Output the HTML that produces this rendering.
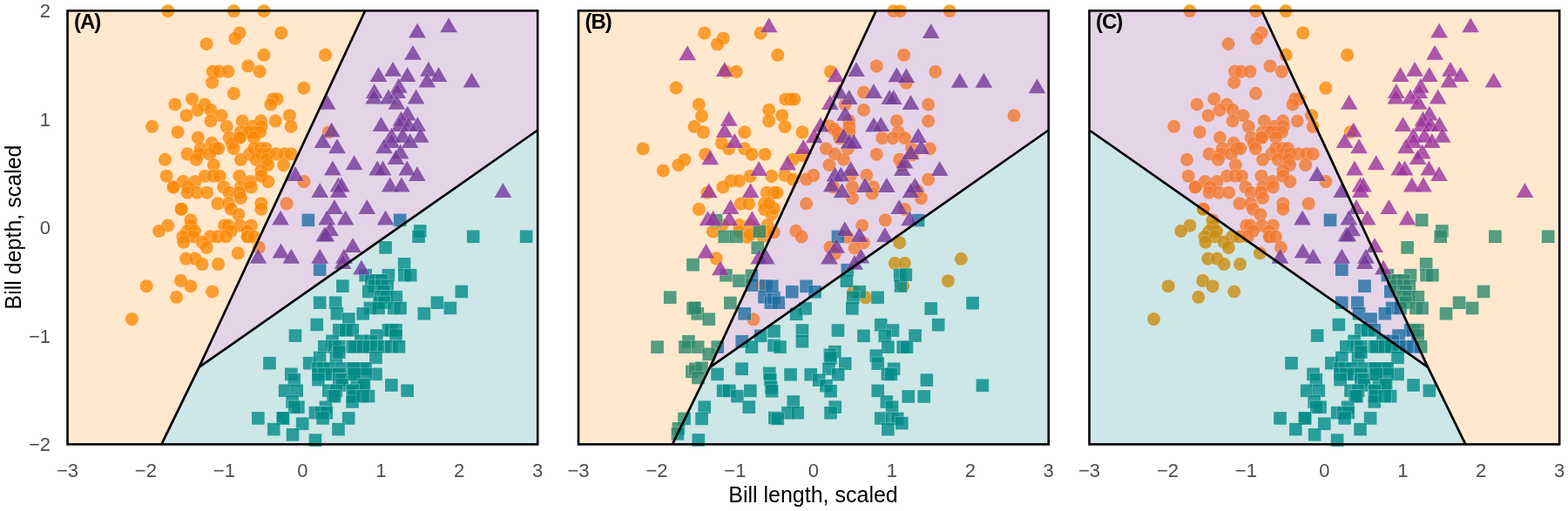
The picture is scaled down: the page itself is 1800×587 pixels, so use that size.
<!DOCTYPE html>
<html lang="en"><head><meta charset="utf-8"><title>Decision boundaries: bill length vs bill depth</title>
<style>
html,body{margin:0;padding:0;background:#fff;}
body{width:1800px;height:587px;overflow:hidden;font-family:"Liberation Sans",Arial,sans-serif;}
svg{display:block;}
.tk{font-size:22px;fill:#4d4d4d;}
.ax{font-size:25px;fill:#000;}
.lb{font-size:24px;font-weight:bold;fill:#000;letter-spacing:-1.1px;}
</style></head><body>
<svg width="1800" height="587" viewBox="0 0 1800 587" font-family="Liberation Sans, Arial, sans-serif">
<rect width="1800" height="587" fill="#fff"/>
<g id="panelA">
<g fill="#ff8c00" fill-opacity="0.8"><circle cx="192.8" cy="12.6" r="7.55"/><circle cx="268.4" cy="12.6" r="7.55"/><circle cx="303.0" cy="12.6" r="7.55"/></g>
<g fill="#008b8b" fill-opacity="0.8"><rect x="354.6" y="498.3" width="14.7" height="14.7"/></g>
<defs>
<clipPath id="cAO"><polygon points="77.5,12.3 419.2,12.3 228.5,421.9 185.4,510.4 77.5,510.4"/></clipPath>
<clipPath id="cAT"><polygon points="419.2,12.3 617.2,12.3 617.2,149.5 228.5,421.9"/></clipPath>
<clipPath id="cAS"><polygon points="185.4,510.4 228.5,421.9 617.2,149.5 617.2,510.4"/></clipPath>
</defs>
<polygon points="77.5,12.3 419.2,12.3 228.5,421.9 185.4,510.4 77.5,510.4" fill="#ffe8cd"/>
<polygon points="419.2,12.3 617.2,12.3 617.2,149.5 228.5,421.9" fill="#e5d3e8"/>
<polygon points="185.4,510.4 228.5,421.9 617.2,149.5 617.2,510.4" fill="#cde6e7"/>
<g clip-path="url(#cAO)">
<g fill="#fa8a08" fill-opacity="0.8" stroke="#fff4e6" stroke-opacity="0.45" stroke-width="1.0" paint-order="stroke"><circle cx="192.8" cy="12.6" r="7.55"/><circle cx="268.4" cy="12.6" r="7.55"/><circle cx="275.0" cy="37.8" r="7.55"/><circle cx="269.9" cy="44.2" r="7.55"/><circle cx="237.0" cy="50.5" r="7.55"/><circle cx="284.9" cy="75.8" r="7.55"/><circle cx="244.3" cy="82.1" r="7.55"/><circle cx="251.6" cy="82.1" r="7.55"/><circle cx="261.9" cy="82.1" r="7.55"/><circle cx="243.6" cy="94.7" r="7.55"/><circle cx="303.0" cy="12.6" r="7.55"/><circle cx="322.7" cy="37.8" r="7.55"/><circle cx="303.0" cy="63.1" r="7.55"/><circle cx="373.5" cy="63.1" r="7.55"/><circle cx="298.2" cy="82.1" r="7.55"/><circle cx="348.8" cy="101.1" r="7.55"/><circle cx="268.4" cy="107.4" r="7.55"/><circle cx="220.6" cy="113.7" r="7.55"/><circle cx="200.9" cy="120.0" r="7.55"/><circle cx="235.1" cy="120.0" r="7.55"/><circle cx="226.9" cy="126.4" r="7.55"/><circle cx="241.9" cy="126.4" r="7.55"/><circle cx="214.0" cy="132.7" r="7.55"/><circle cx="253.9" cy="132.7" r="7.55"/><circle cx="241.9" cy="139.0" r="7.55"/><circle cx="278.2" cy="139.0" r="7.55"/><circle cx="174.6" cy="145.3" r="7.55"/><circle cx="260.2" cy="145.3" r="7.55"/><circle cx="204.1" cy="151.7" r="7.55"/><circle cx="276.4" cy="151.7" r="7.55"/><circle cx="288.3" cy="151.7" r="7.55"/><circle cx="227.3" cy="158.0" r="7.55"/><circle cx="263.1" cy="158.0" r="7.55"/><circle cx="275.5" cy="158.0" r="7.55"/><circle cx="243.1" cy="164.3" r="7.55"/><circle cx="266.1" cy="164.3" r="7.55"/><circle cx="230.3" cy="170.6" r="7.55"/><circle cx="247.0" cy="170.6" r="7.55"/><circle cx="250.8" cy="170.6" r="7.55"/><circle cx="268.2" cy="170.6" r="7.55"/><circle cx="215.0" cy="176.9" r="7.55"/><circle cx="228.6" cy="176.9" r="7.55"/><circle cx="240.6" cy="176.9" r="7.55"/><circle cx="286.6" cy="176.9" r="7.55"/><circle cx="189.4" cy="183.3" r="7.55"/><circle cx="225.2" cy="183.3" r="7.55"/><circle cx="276.4" cy="183.3" r="7.55"/><circle cx="245.3" cy="189.6" r="7.55"/><circle cx="318.0" cy="113.7" r="7.55"/><circle cx="313.7" cy="113.7" r="7.55"/><circle cx="310.8" cy="120.0" r="7.55"/><circle cx="332.4" cy="132.7" r="7.55"/><circle cx="299.5" cy="139.0" r="7.55"/><circle cx="316.2" cy="139.0" r="7.55"/><circle cx="334.1" cy="145.3" r="7.55"/><circle cx="289.8" cy="145.3" r="7.55"/><circle cx="300.1" cy="145.3" r="7.55"/><circle cx="285.6" cy="151.7" r="7.55"/><circle cx="293.2" cy="151.7" r="7.55"/><circle cx="298.4" cy="151.7" r="7.55"/><circle cx="275.3" cy="158.0" r="7.55"/><circle cx="291.5" cy="158.0" r="7.55"/><circle cx="291.5" cy="170.6" r="7.55"/><circle cx="299.2" cy="170.6" r="7.55"/><circle cx="305.2" cy="170.6" r="7.55"/><circle cx="300.9" cy="176.9" r="7.55"/><circle cx="307.7" cy="176.9" r="7.55"/><circle cx="317.1" cy="176.9" r="7.55"/><circle cx="326.5" cy="176.9" r="7.55"/><circle cx="334.1" cy="176.9" r="7.55"/><circle cx="294.1" cy="183.3" r="7.55"/><circle cx="306.0" cy="183.3" r="7.55"/><circle cx="325.6" cy="189.6" r="7.55"/><circle cx="191.1" cy="202.2" r="7.55"/><circle cx="235.5" cy="202.2" r="7.55"/><circle cx="244.8" cy="202.2" r="7.55"/><circle cx="252.2" cy="202.2" r="7.55"/><circle cx="275.0" cy="202.2" r="7.55"/><circle cx="210.2" cy="208.6" r="7.55"/><circle cx="224.0" cy="208.6" r="7.55"/><circle cx="287.4" cy="208.6" r="7.55"/><circle cx="199.1" cy="214.9" r="7.55"/><circle cx="199.1" cy="214.9" r="7.55"/><circle cx="215.9" cy="214.9" r="7.55"/><circle cx="256.8" cy="214.9" r="7.55"/><circle cx="276.4" cy="214.9" r="7.55"/><circle cx="288.3" cy="214.9" r="7.55"/><circle cx="215.0" cy="221.2" r="7.55"/><circle cx="226.1" cy="221.2" r="7.55"/><circle cx="237.5" cy="221.2" r="7.55"/><circle cx="263.1" cy="221.2" r="7.55"/><circle cx="274.7" cy="221.2" r="7.55"/><circle cx="276.4" cy="227.5" r="7.55"/><circle cx="249.9" cy="233.9" r="7.55"/><circle cx="262.4" cy="233.9" r="7.55"/><circle cx="208.2" cy="240.2" r="7.55"/><circle cx="208.2" cy="240.2" r="7.55"/><circle cx="265.3" cy="240.2" r="7.55"/><circle cx="273.8" cy="246.5" r="7.55"/><circle cx="218.9" cy="252.8" r="7.55"/><circle cx="192.8" cy="259.1" r="7.55"/><circle cx="219.3" cy="259.1" r="7.55"/><circle cx="257.6" cy="259.1" r="7.55"/><circle cx="261.9" cy="259.1" r="7.55"/><circle cx="275.5" cy="259.1" r="7.55"/><circle cx="288.3" cy="259.1" r="7.55"/><circle cx="182.6" cy="265.5" r="7.55"/><circle cx="215.0" cy="265.5" r="7.55"/><circle cx="223.5" cy="265.5" r="7.55"/><circle cx="265.3" cy="265.5" r="7.55"/><circle cx="284.0" cy="265.5" r="7.55"/><circle cx="209.9" cy="271.8" r="7.55"/><circle cx="221.8" cy="271.8" r="7.55"/><circle cx="241.4" cy="271.8" r="7.55"/><circle cx="249.9" cy="271.8" r="7.55"/><circle cx="259.3" cy="271.8" r="7.55"/><circle cx="284.0" cy="271.8" r="7.55"/><circle cx="210.7" cy="278.1" r="7.55"/><circle cx="232.0" cy="278.1" r="7.55"/><circle cx="307.5" cy="189.6" r="7.55"/><circle cx="299.8" cy="195.9" r="7.55"/><circle cx="299.8" cy="202.2" r="7.55"/><circle cx="307.8" cy="208.6" r="7.55"/><circle cx="299.8" cy="233.9" r="7.55"/><circle cx="299.8" cy="240.2" r="7.55"/><circle cx="284.5" cy="271.8" r="7.55"/><circle cx="291.3" cy="271.8" r="7.55"/><circle cx="329.1" cy="233.9" r="7.55"/><circle cx="237.2" cy="284.4" r="7.55"/><circle cx="273.3" cy="290.8" r="7.55"/><circle cx="213.6" cy="297.1" r="7.55"/><circle cx="224.0" cy="297.1" r="7.55"/><circle cx="232.0" cy="303.4" r="7.55"/><circle cx="250.5" cy="303.4" r="7.55"/><circle cx="207.5" cy="322.4" r="7.55"/><circle cx="168.1" cy="328.7" r="7.55"/><circle cx="218.9" cy="328.7" r="7.55"/><circle cx="243.6" cy="335.0" r="7.55"/><circle cx="202.6" cy="341.3" r="7.55"/><circle cx="151.4" cy="366.6" r="7.55"/><circle cx="297.3" cy="284.4" r="7.55"/></g>
<g fill="#98329f" fill-opacity="0.8" stroke="#fff4e6" stroke-opacity="0.45" stroke-width="1.0" paint-order="stroke"><path d="M375.6 108.7l9.9 17.0h-19.8z"/><path d="M339.0 190.9l9.9 17.0h-19.8z"/><path d="M296.4 285.8l9.9 17.0h-19.8z"/></g>
</g>
<g clip-path="url(#cAT)">
<g fill="#f37a30" fill-opacity="0.8" stroke="#f4e8f6" stroke-opacity="0.45" stroke-width="1.0" paint-order="stroke"><circle cx="334.1" cy="176.9" r="7.55"/><circle cx="325.6" cy="189.6" r="7.55"/><circle cx="377.3" cy="151.7" r="7.55"/><circle cx="291.3" cy="271.8" r="7.55"/><circle cx="348.9" cy="208.6" r="7.55"/><circle cx="329.1" cy="233.9" r="7.55"/><circle cx="297.3" cy="284.4" r="7.55"/></g>
<g fill="#1e6ea1" fill-opacity="0.8" stroke="#f4e8f6" stroke-opacity="0.45" stroke-width="1.0" paint-order="stroke"><rect x="346.5" y="245.5" width="14.7" height="14.7"/><rect x="451.8" y="245.5" width="14.7" height="14.7"/><rect x="359.8" y="302.3" width="14.7" height="14.7"/><rect x="435.2" y="277.0" width="14.7" height="14.7"/></g>
<g fill="#723997" fill-opacity="0.8" stroke="#f4e8f6" stroke-opacity="0.45" stroke-width="1.0" paint-order="stroke"><path d="M479.0 26.5l9.9 17.0h-19.8z"/><path d="M515.1 20.2l9.9 17.0h-19.8z"/><path d="M474.0 51.8l9.9 17.0h-19.8z"/><path d="M451.0 70.8l9.9 17.0h-19.8z"/><path d="M434.5 77.1l9.9 17.0h-19.8z"/><path d="M467.7 77.1l9.9 17.0h-19.8z"/><path d="M491.9 70.8l9.9 17.0h-19.8z"/><path d="M503.5 77.1l9.9 17.0h-19.8z"/><path d="M541.5 83.4l9.9 17.0h-19.8z"/><path d="M490.4 83.4l9.9 17.0h-19.8z"/><path d="M457.8 89.8l9.9 17.0h-19.8z"/><path d="M429.7 96.1l9.9 17.0h-19.8z"/><path d="M375.6 108.7l9.9 17.0h-19.8z"/><path d="M380.7 140.4l9.9 17.0h-19.8z"/><path d="M370.5 153.0l9.9 17.0h-19.8z"/><path d="M387.0 159.3l9.9 17.0h-19.8z"/><path d="M381.9 184.6l9.9 17.0h-19.8z"/><path d="M406.6 178.3l9.9 17.0h-19.8z"/><path d="M456.2 96.1l9.9 17.0h-19.8z"/><path d="M429.3 102.4l9.9 17.0h-19.8z"/><path d="M446.0 102.4l9.9 17.0h-19.8z"/><path d="M477.6 102.4l9.9 17.0h-19.8z"/><path d="M455.4 108.7l9.9 17.0h-19.8z"/><path d="M467.8 121.4l9.9 17.0h-19.8z"/><path d="M460.5 127.7l9.9 17.0h-19.8z"/><path d="M437.5 134.0l9.9 17.0h-19.8z"/><path d="M458.8 134.0l9.9 17.0h-19.8z"/><path d="M469.0 134.0l9.9 17.0h-19.8z"/><path d="M479.3 134.0l9.9 17.0h-19.8z"/><path d="M449.4 146.7l9.9 17.0h-19.8z"/><path d="M462.2 146.7l9.9 17.0h-19.8z"/><path d="M482.7 146.7l9.9 17.0h-19.8z"/><path d="M449.4 153.0l9.9 17.0h-19.8z"/><path d="M470.7 153.0l9.9 17.0h-19.8z"/><path d="M440.9 159.3l9.9 17.0h-19.8z"/><path d="M459.7 165.6l9.9 17.0h-19.8z"/><path d="M454.5 172.0l9.9 17.0h-19.8z"/><path d="M433.2 184.6l9.9 17.0h-19.8z"/><path d="M439.5 184.6l9.9 17.0h-19.8z"/><path d="M467.3 184.6l9.9 17.0h-19.8z"/><path d="M339.0 190.9l9.9 17.0h-19.8z"/><path d="M367.2 209.9l9.9 17.0h-19.8z"/><path d="M388.5 203.6l9.9 17.0h-19.8z"/><path d="M391.9 203.6l9.9 17.0h-19.8z"/><path d="M388.8 209.9l9.9 17.0h-19.8z"/><path d="M383.9 228.9l9.9 17.0h-19.8z"/><path d="M322.0 241.5l9.9 17.0h-19.8z"/><path d="M375.3 241.5l9.9 17.0h-19.8z"/><path d="M396.6 241.5l9.9 17.0h-19.8z"/><path d="M379.1 254.2l9.9 17.0h-19.8z"/><path d="M372.3 260.5l9.9 17.0h-19.8z"/><path d="M374.3 260.5l9.9 17.0h-19.8z"/><path d="M405.0 273.1l9.9 17.0h-19.8z"/><path d="M478.9 190.9l9.9 17.0h-19.8z"/><path d="M447.7 203.6l9.9 17.0h-19.8z"/><path d="M460.9 203.6l9.9 17.0h-19.8z"/><path d="M421.3 228.9l9.9 17.0h-19.8z"/><path d="M442.6 241.5l9.9 17.0h-19.8z"/><path d="M296.4 285.8l9.9 17.0h-19.8z"/><path d="M322.5 279.5l9.9 17.0h-19.8z"/><path d="M334.3 285.8l9.9 17.0h-19.8z"/><path d="M367.2 285.8l9.9 17.0h-19.8z"/><path d="M394.9 285.8l9.9 17.0h-19.8z"/><path d="M393.6 292.1l9.9 17.0h-19.8z"/></g>
</g>
<g clip-path="url(#cAS)">
<g fill="#008b87" fill-opacity="0.8" stroke="#e8f6f6" stroke-opacity="0.45" stroke-width="1.0" paint-order="stroke"><rect x="451.8" y="245.5" width="14.7" height="14.7"/><rect x="474.9" y="258.1" width="14.7" height="14.7"/><rect x="473.2" y="264.4" width="14.7" height="14.7"/><rect x="535.9" y="264.4" width="14.7" height="14.7"/><rect x="596.8" y="264.4" width="14.7" height="14.7"/><rect x="386.0" y="321.3" width="14.7" height="14.7"/><rect x="359.8" y="340.3" width="14.7" height="14.7"/><rect x="377.8" y="340.3" width="14.7" height="14.7"/><rect x="379.5" y="352.9" width="14.7" height="14.7"/><rect x="393.0" y="359.2" width="14.7" height="14.7"/><rect x="435.2" y="277.0" width="14.7" height="14.7"/><rect x="456.8" y="296.0" width="14.7" height="14.7"/><rect x="522.5" y="327.6" width="14.7" height="14.7"/><rect x="494.5" y="340.3" width="14.7" height="14.7"/><rect x="509.5" y="346.6" width="14.7" height="14.7"/><rect x="479.5" y="352.9" width="14.7" height="14.7"/><rect x="412.3" y="308.8" width="14.7" height="14.7"/><rect x="438.5" y="308.8" width="14.7" height="14.7"/><rect x="457.0" y="308.8" width="14.7" height="14.7"/><rect x="463.8" y="308.8" width="14.7" height="14.7"/><rect x="418.8" y="315.0" width="14.7" height="14.7"/><rect x="424.2" y="315.0" width="14.7" height="14.7"/><rect x="430.8" y="315.0" width="14.7" height="14.7"/><rect x="422.4" y="321.3" width="14.7" height="14.7"/><rect x="430.8" y="321.3" width="14.7" height="14.7"/><rect x="437.3" y="321.3" width="14.7" height="14.7"/><rect x="415.8" y="327.6" width="14.7" height="14.7"/><rect x="433.1" y="327.6" width="14.7" height="14.7"/><rect x="429.6" y="333.9" width="14.7" height="14.7"/><rect x="436.1" y="333.9" width="14.7" height="14.7"/><rect x="447.4" y="333.9" width="14.7" height="14.7"/><rect x="428.4" y="340.3" width="14.7" height="14.7"/><rect x="433.8" y="340.3" width="14.7" height="14.7"/><rect x="417.6" y="346.6" width="14.7" height="14.7"/><rect x="427.2" y="346.6" width="14.7" height="14.7"/><rect x="445.1" y="346.6" width="14.7" height="14.7"/><rect x="452.2" y="346.6" width="14.7" height="14.7"/><rect x="409.3" y="352.9" width="14.7" height="14.7"/><rect x="356.4" y="365.6" width="14.7" height="14.7"/><rect x="331.6" y="378.2" width="14.7" height="14.7"/><rect x="302.1" y="409.8" width="14.7" height="14.7"/><rect x="327.0" y="422.5" width="14.7" height="14.7"/><rect x="330.4" y="428.8" width="14.7" height="14.7"/><rect x="319.8" y="441.4" width="14.7" height="14.7"/><rect x="333.3" y="441.4" width="14.7" height="14.7"/><rect x="328.2" y="454.1" width="14.7" height="14.7"/><rect x="347.8" y="409.8" width="14.7" height="14.7"/><rect x="381.9" y="371.9" width="14.7" height="14.7"/><rect x="389.6" y="371.9" width="14.7" height="14.7"/><rect x="397.3" y="371.9" width="14.7" height="14.7"/><rect x="374.2" y="384.5" width="14.7" height="14.7"/><rect x="364.9" y="390.9" width="14.7" height="14.7"/><rect x="376.8" y="390.9" width="14.7" height="14.7"/><rect x="381.9" y="390.9" width="14.7" height="14.7"/><rect x="397.3" y="390.9" width="14.7" height="14.7"/><rect x="407.5" y="390.9" width="14.7" height="14.7"/><rect x="359.8" y="403.5" width="14.7" height="14.7"/><rect x="378.5" y="403.5" width="14.7" height="14.7"/><rect x="381.9" y="397.2" width="14.7" height="14.7"/><rect x="358.1" y="416.1" width="14.7" height="14.7"/><rect x="363.2" y="416.1" width="14.7" height="14.7"/><rect x="371.8" y="416.1" width="14.7" height="14.7"/><rect x="385.3" y="416.1" width="14.7" height="14.7"/><rect x="397.3" y="416.1" width="14.7" height="14.7"/><rect x="409.2" y="416.1" width="14.7" height="14.7"/><rect x="358.1" y="422.5" width="14.7" height="14.7"/><rect x="364.9" y="422.5" width="14.7" height="14.7"/><rect x="373.4" y="422.5" width="14.7" height="14.7"/><rect x="381.9" y="422.5" width="14.7" height="14.7"/><rect x="399.0" y="422.5" width="14.7" height="14.7"/><rect x="358.1" y="428.8" width="14.7" height="14.7"/><rect x="381.9" y="428.8" width="14.7" height="14.7"/><rect x="385.3" y="428.8" width="14.7" height="14.7"/><rect x="385.3" y="435.1" width="14.7" height="14.7"/><rect x="402.4" y="435.1" width="14.7" height="14.7"/><rect x="409.2" y="435.1" width="14.7" height="14.7"/><rect x="370.0" y="441.4" width="14.7" height="14.7"/><rect x="378.5" y="441.4" width="14.7" height="14.7"/><rect x="397.3" y="441.4" width="14.7" height="14.7"/><rect x="375.1" y="447.8" width="14.7" height="14.7"/><rect x="397.3" y="447.8" width="14.7" height="14.7"/><rect x="442.0" y="371.9" width="14.7" height="14.7"/><rect x="438.6" y="371.9" width="14.7" height="14.7"/><rect x="447.1" y="371.9" width="14.7" height="14.7"/><rect x="425.0" y="378.2" width="14.7" height="14.7"/><rect x="447.1" y="378.2" width="14.7" height="14.7"/><rect x="407.1" y="384.5" width="14.7" height="14.7"/><rect x="418.2" y="384.5" width="14.7" height="14.7"/><rect x="399.4" y="390.9" width="14.7" height="14.7"/><rect x="409.6" y="390.9" width="14.7" height="14.7"/><rect x="416.5" y="390.9" width="14.7" height="14.7"/><rect x="425.0" y="390.9" width="14.7" height="14.7"/><rect x="433.5" y="390.9" width="14.7" height="14.7"/><rect x="442.0" y="390.9" width="14.7" height="14.7"/><rect x="450.6" y="390.9" width="14.7" height="14.7"/><rect x="424.1" y="403.5" width="14.7" height="14.7"/><rect x="412.2" y="416.1" width="14.7" height="14.7"/><rect x="398.6" y="416.1" width="14.7" height="14.7"/><rect x="424.1" y="422.5" width="14.7" height="14.7"/><rect x="412.2" y="422.5" width="14.7" height="14.7"/><rect x="399.4" y="422.5" width="14.7" height="14.7"/><rect x="410.5" y="435.1" width="14.7" height="14.7"/><rect x="442.0" y="435.1" width="14.7" height="14.7"/><rect x="460.3" y="441.4" width="14.7" height="14.7"/><rect x="397.8" y="441.4" width="14.7" height="14.7"/><rect x="415.6" y="447.8" width="14.7" height="14.7"/><rect x="398.6" y="447.8" width="14.7" height="14.7"/><rect x="335.0" y="460.4" width="14.7" height="14.7"/><rect x="330.8" y="460.4" width="14.7" height="14.7"/><rect x="289.0" y="473.1" width="14.7" height="14.7"/><rect x="317.5" y="473.1" width="14.7" height="14.7"/><rect x="317.5" y="473.1" width="14.7" height="14.7"/><rect x="306.9" y="485.8" width="14.7" height="14.7"/><rect x="339.8" y="479.4" width="14.7" height="14.7"/><rect x="328.6" y="492.0" width="14.7" height="14.7"/><rect x="354.6" y="498.3" width="14.7" height="14.7"/><rect x="366.6" y="460.4" width="14.7" height="14.7"/><rect x="354.6" y="466.8" width="14.7" height="14.7"/><rect x="361.5" y="466.8" width="14.7" height="14.7"/><rect x="367.4" y="466.8" width="14.7" height="14.7"/><rect x="363.2" y="473.1" width="14.7" height="14.7"/><rect x="392.8" y="473.1" width="14.7" height="14.7"/><rect x="381.1" y="485.8" width="14.7" height="14.7"/><rect x="397.3" y="454.1" width="14.7" height="14.7"/><rect x="376.8" y="447.8" width="14.7" height="14.7"/><rect x="409.2" y="447.8" width="14.7" height="14.7"/></g>
<g fill="#6f37a1" fill-opacity="0.8" stroke="#e8f6f6" stroke-opacity="0.45" stroke-width="1.0" paint-order="stroke"><path d="M405.0 273.1l9.9 17.0h-19.8z"/><path d="M577.4 209.9l9.9 17.0h-19.8z"/><path d="M394.9 285.8l9.9 17.0h-19.8z"/><path d="M393.6 292.1l9.9 17.0h-19.8z"/><path d="M414.9 298.4l9.9 17.0h-19.8z"/></g>
</g>
<path d="M185.4 510.4L228.5 421.9L419.2 12.3M228.5 421.9L617.2 149.5" stroke="#000" stroke-width="2.7" fill="none" stroke-linejoin="round"/>
<rect x="77.5" y="12.3" width="539.7" height="498.1" fill="none" stroke="#000" stroke-width="2.6"/>
<text class="lb" x="85.1" y="33.0">(A)</text>
<text class="tk" x="77.5" y="548.4" text-anchor="middle">−3</text>
<text class="tk" x="167.4" y="548.4" text-anchor="middle">−2</text>
<text class="tk" x="257.4" y="548.4" text-anchor="middle">−1</text>
<text class="tk" x="347.4" y="548.4" text-anchor="middle">0</text>
<text class="tk" x="437.3" y="548.4" text-anchor="middle">1</text>
<text class="tk" x="527.2" y="548.4" text-anchor="middle">2</text>
<text class="tk" x="617.2" y="548.4" text-anchor="middle">3</text>
</g>
<g id="panelB">
<g fill="#ff8c00" fill-opacity="0.8"><circle cx="1025.8" cy="12.7" r="7.55"/><circle cx="1033.4" cy="12.7" r="7.55"/><circle cx="1090.2" cy="12.7" r="7.55"/></g>
<g fill="#008b8b" fill-opacity="0.8"><rect x="794.5" y="498.1" width="14.7" height="14.7"/></g>
<defs>
<clipPath id="cBO"><polygon points="664.0,12.3 1005.7,12.3 815.0,421.9 771.9,510.4 664.0,510.4"/></clipPath>
<clipPath id="cBT"><polygon points="1005.7,12.3 1203.7,12.3 1203.7,149.5 815.0,421.9"/></clipPath>
<clipPath id="cBS"><polygon points="771.9,510.4 815.0,421.9 1203.7,149.5 1203.7,510.4"/></clipPath>
</defs>
<polygon points="664.0,12.3 1005.7,12.3 815.0,421.9 771.9,510.4 664.0,510.4" fill="#ffe8cd"/>
<polygon points="1005.7,12.3 1203.7,12.3 1203.7,149.5 815.0,421.9" fill="#e5d3e8"/>
<polygon points="771.9,510.4 815.0,421.9 1203.7,149.5 1203.7,510.4" fill="#cde6e7"/>
<g clip-path="url(#cBO)">
<g fill="#fa8a08" fill-opacity="0.8" stroke="#fff4e6" stroke-opacity="0.45" stroke-width="1.0" paint-order="stroke"><circle cx="808.7" cy="38.0" r="7.55"/><circle cx="830.2" cy="44.0" r="7.55"/><circle cx="823.5" cy="50.8" r="7.55"/><circle cx="873.1" cy="38.0" r="7.55"/><circle cx="833.5" cy="82.3" r="7.55"/><circle cx="845.2" cy="82.3" r="7.55"/><circle cx="776.1" cy="100.9" r="7.55"/><circle cx="892.8" cy="63.2" r="7.55"/><circle cx="953.4" cy="82.3" r="7.55"/><circle cx="802.3" cy="120.0" r="7.55"/><circle cx="805.6" cy="133.1" r="7.55"/><circle cx="797.1" cy="145.5" r="7.55"/><circle cx="807.4" cy="151.9" r="7.55"/><circle cx="882.7" cy="126.4" r="7.55"/><circle cx="882.7" cy="138.9" r="7.55"/><circle cx="854.8" cy="151.9" r="7.55"/><circle cx="828.4" cy="164.4" r="7.55"/><circle cx="836.6" cy="170.8" r="7.55"/><circle cx="854.8" cy="170.8" r="7.55"/><circle cx="863.0" cy="177.2" r="7.55"/><circle cx="878.0" cy="177.2" r="7.55"/><circle cx="738.2" cy="170.8" r="7.55"/><circle cx="809.8" cy="177.2" r="7.55"/><circle cx="785.9" cy="183.6" r="7.55"/><circle cx="778.8" cy="189.6" r="7.55"/><circle cx="761.3" cy="196.0" r="7.55"/><circle cx="861.2" cy="202.4" r="7.55"/><circle cx="839.3" cy="207.8" r="7.55"/><circle cx="848.5" cy="207.8" r="7.55"/><circle cx="885.8" cy="202.4" r="7.55"/><circle cx="901.9" cy="114.0" r="7.55"/><circle cx="907.3" cy="114.0" r="7.55"/><circle cx="911.9" cy="114.0" r="7.55"/><circle cx="897.7" cy="132.7" r="7.55"/><circle cx="901.0" cy="145.5" r="7.55"/><circle cx="921.0" cy="151.9" r="7.55"/><circle cx="910.1" cy="183.2" r="7.55"/><circle cx="921.0" cy="178.7" r="7.55"/><circle cx="901.0" cy="201.4" r="7.55"/><circle cx="910.1" cy="206.0" r="7.55"/><circle cx="952.0" cy="144.9" r="7.55"/><circle cx="925.6" cy="206.0" r="7.55"/><circle cx="829.9" cy="214.9" r="7.55"/><circle cx="812.0" cy="221.3" r="7.55"/><circle cx="880.3" cy="221.3" r="7.55"/><circle cx="888.5" cy="221.3" r="7.55"/><circle cx="850.3" cy="234.0" r="7.55"/><circle cx="859.7" cy="234.0" r="7.55"/><circle cx="877.6" cy="234.0" r="7.55"/><circle cx="802.3" cy="240.4" r="7.55"/><circle cx="877.6" cy="240.4" r="7.55"/><circle cx="885.8" cy="245.9" r="7.55"/><circle cx="888.5" cy="239.5" r="7.55"/><circle cx="848.5" cy="258.6" r="7.55"/><circle cx="829.3" cy="258.6" r="7.55"/><circle cx="861.2" cy="258.6" r="7.55"/><circle cx="881.3" cy="258.6" r="7.55"/><circle cx="818.4" cy="265.9" r="7.55"/><circle cx="848.5" cy="265.9" r="7.55"/><circle cx="857.6" cy="272.3" r="7.55"/><circle cx="861.2" cy="269.5" r="7.55"/><circle cx="872.1" cy="265.9" r="7.55"/><circle cx="875.8" cy="271.4" r="7.55"/><circle cx="822.2" cy="296.9" r="7.55"/><circle cx="891.8" cy="221.3" r="7.55"/><circle cx="882.7" cy="234.0" r="7.55"/><circle cx="881.8" cy="265.9" r="7.55"/><circle cx="888.2" cy="266.8" r="7.55"/></g>
<g fill="#2a886d" fill-opacity="0.8" stroke="#fff4e6" stroke-opacity="0.45" stroke-width="1.0" paint-order="stroke"><rect x="814.6" y="245.8" width="14.7" height="14.7"/><rect x="824.4" y="264.5" width="14.7" height="14.7"/><rect x="837.9" y="264.5" width="14.7" height="14.7"/><rect x="864.4" y="258.5" width="14.7" height="14.7"/><rect x="862.4" y="277.3" width="14.7" height="14.7"/><rect x="788.2" y="296.8" width="14.7" height="14.7"/><rect x="826.1" y="308.9" width="14.7" height="14.7"/><rect x="841.1" y="315.3" width="14.7" height="14.7"/><rect x="855.6" y="309.3" width="14.7" height="14.7"/><rect x="761.9" y="334.3" width="14.7" height="14.7"/><rect x="831.0" y="340.6" width="14.7" height="14.7"/><rect x="788.2" y="347.0" width="14.7" height="14.7"/><rect x="793.4" y="353.0" width="14.7" height="14.7"/><rect x="806.4" y="359.4" width="14.7" height="14.7"/><rect x="847.4" y="353.0" width="14.7" height="14.7"/><rect x="855.6" y="320.2" width="14.7" height="14.7"/><rect x="747.2" y="391.3" width="14.7" height="14.7"/><rect x="783.1" y="384.9" width="14.7" height="14.7"/><rect x="779.1" y="391.3" width="14.7" height="14.7"/><rect x="793.8" y="391.3" width="14.7" height="14.7"/><rect x="816.4" y="391.3" width="14.7" height="14.7"/><rect x="806.4" y="399.5" width="14.7" height="14.7"/><rect x="787.0" y="419.5" width="14.7" height="14.7"/><rect x="791.1" y="416.4" width="14.7" height="14.7"/><rect x="798.2" y="415.4" width="14.7" height="14.7"/><rect x="794.1" y="426.6" width="14.7" height="14.7"/><rect x="816.2" y="422.5" width="14.7" height="14.7"/><rect x="778.2" y="473.6" width="14.7" height="14.7"/><rect x="771.6" y="484.9" width="14.7" height="14.7"/><rect x="770.6" y="491.0" width="14.7" height="14.7"/><rect x="790.2" y="346.4" width="14.7" height="14.7"/></g>
<g fill="#98329f" fill-opacity="0.8" stroke="#fff4e6" stroke-opacity="0.45" stroke-width="1.0" paint-order="stroke"><path d="M882.7 20.3l9.9 17.0h-19.8z"/><path d="M789.2 52.2l9.9 17.0h-19.8z"/><path d="M831.7 71.0l9.9 17.0h-19.8z"/><path d="M959.6 77.3l9.9 17.0h-19.8z"/><path d="M983.0 71.0l9.9 17.0h-19.8z"/><path d="M963.8 96.5l9.9 17.0h-19.8z"/><path d="M836.8 127.8l9.9 17.0h-19.8z"/><path d="M831.7 140.9l9.9 17.0h-19.8z"/><path d="M843.3 153.1l9.9 17.0h-19.8z"/><path d="M815.3 172.2l9.9 17.0h-19.8z"/><path d="M871.2 185.0l9.9 17.0h-19.8z"/><path d="M952.9 109.0l9.9 17.0h-19.8z"/><path d="M942.0 134.5l9.9 17.0h-19.8z"/><path d="M934.7 147.3l9.9 17.0h-19.8z"/><path d="M922.3 160.0l9.9 17.0h-19.8z"/><path d="M904.2 178.6l9.9 17.0h-19.8z"/><path d="M813.8 210.3l9.9 17.0h-19.8z"/><path d="M861.6 210.3l9.9 17.0h-19.8z"/><path d="M838.6 229.1l9.9 17.0h-19.8z"/><path d="M812.6 242.2l9.9 17.0h-19.8z"/><path d="M818.7 241.8l9.9 17.0h-19.8z"/><path d="M837.2 242.2l9.9 17.0h-19.8z"/><path d="M863.4 242.2l9.9 17.0h-19.8z"/><path d="M810.5 279.7l9.9 17.0h-19.8z"/><path d="M826.9 299.2l9.9 17.0h-19.8z"/><path d="M871.2 286.5l9.9 17.0h-19.8z"/><path d="M879.8 286.5l9.9 17.0h-19.8z"/></g>
</g>
<g clip-path="url(#cBT)">
<g fill="#f37a30" fill-opacity="0.8" stroke="#f4e8f6" stroke-opacity="0.45" stroke-width="1.0" paint-order="stroke"><circle cx="1006.3" cy="75.9" r="7.55"/><circle cx="1037.6" cy="63.2" r="7.55"/><circle cx="1025.8" cy="12.7" r="7.55"/><circle cx="1033.4" cy="12.7" r="7.55"/><circle cx="991.5" cy="106.0" r="7.55"/><circle cx="1040.4" cy="95.1" r="7.55"/><circle cx="1090.2" cy="12.7" r="7.55"/><circle cx="1073.8" cy="82.4" r="7.55"/><circle cx="921.0" cy="178.7" r="7.55"/><circle cx="910.1" cy="206.0" r="7.55"/><circle cx="970.2" cy="120.0" r="7.55"/><circle cx="991.5" cy="126.4" r="7.55"/><circle cx="974.8" cy="138.9" r="7.55"/><circle cx="1029.4" cy="138.9" r="7.55"/><circle cx="952.0" cy="144.9" r="7.55"/><circle cx="957.4" cy="148.0" r="7.55"/><circle cx="974.8" cy="145.9" r="7.55"/><circle cx="962.0" cy="153.1" r="7.55"/><circle cx="974.8" cy="152.2" r="7.55"/><circle cx="1031.3" cy="151.9" r="7.55"/><circle cx="1012.7" cy="158.6" r="7.55"/><circle cx="1024.9" cy="158.6" r="7.55"/><circle cx="1038.5" cy="158.6" r="7.55"/><circle cx="963.8" cy="158.6" r="7.55"/><circle cx="948.3" cy="170.8" r="7.55"/><circle cx="958.4" cy="176.8" r="7.55"/><circle cx="973.3" cy="170.8" r="7.55"/><circle cx="968.4" cy="183.2" r="7.55"/><circle cx="1006.3" cy="177.2" r="7.55"/><circle cx="952.0" cy="189.6" r="7.55"/><circle cx="1032.7" cy="183.2" r="7.55"/><circle cx="1035.8" cy="189.6" r="7.55"/><circle cx="933.8" cy="201.4" r="7.55"/><circle cx="925.6" cy="206.0" r="7.55"/><circle cx="994.8" cy="201.4" r="7.55"/><circle cx="976.6" cy="201.4" r="7.55"/><circle cx="1065.6" cy="120.0" r="7.55"/><circle cx="1065.6" cy="139.1" r="7.55"/><circle cx="1164.0" cy="132.8" r="7.55"/><circle cx="1067.4" cy="170.9" r="7.55"/><circle cx="1046.4" cy="170.5" r="7.55"/><circle cx="1047.3" cy="177.8" r="7.55"/><circle cx="1065.6" cy="206.1" r="7.55"/><circle cx="885.8" cy="245.9" r="7.55"/><circle cx="888.5" cy="239.5" r="7.55"/><circle cx="881.3" cy="258.6" r="7.55"/><circle cx="875.8" cy="271.4" r="7.55"/><circle cx="881.8" cy="265.9" r="7.55"/><circle cx="888.2" cy="266.8" r="7.55"/><circle cx="925.6" cy="234.0" r="7.55"/><circle cx="913.7" cy="265.4" r="7.55"/><circle cx="920.1" cy="271.9" r="7.55"/><circle cx="978.4" cy="214.9" r="7.55"/><circle cx="978.4" cy="227.6" r="7.55"/><circle cx="956.5" cy="214.9" r="7.55"/><circle cx="1002.5" cy="214.9" r="7.55"/><circle cx="1001.2" cy="222.2" r="7.55"/><circle cx="989.7" cy="259.0" r="7.55"/><circle cx="1016.3" cy="252.8" r="7.55"/><circle cx="972.9" cy="272.3" r="7.55"/><circle cx="991.2" cy="278.7" r="7.55"/><circle cx="981.1" cy="285.0" r="7.55"/><circle cx="952.9" cy="284.1" r="7.55"/><circle cx="958.4" cy="291.4" r="7.55"/><circle cx="1038.5" cy="240.4" r="7.55"/><circle cx="1032.7" cy="278.7" r="7.55"/><circle cx="1057.4" cy="227.7" r="7.55"/><circle cx="1053.7" cy="219.4" r="7.55"/><circle cx="875.8" cy="328.5" r="7.55"/><circle cx="864.9" cy="366.8" r="7.55"/></g>
<g fill="#1e6ea1" fill-opacity="0.8" stroke="#f4e8f6" stroke-opacity="0.45" stroke-width="1.0" paint-order="stroke"><rect x="862.4" y="277.3" width="14.7" height="14.7"/><rect x="954.6" y="264.5" width="14.7" height="14.7"/><rect x="1046.8" y="245.8" width="14.7" height="14.7"/><rect x="841.1" y="315.3" width="14.7" height="14.7"/><rect x="855.6" y="309.3" width="14.7" height="14.7"/><rect x="831.0" y="340.6" width="14.7" height="14.7"/><rect x="847.4" y="353.0" width="14.7" height="14.7"/><rect x="855.6" y="320.2" width="14.7" height="14.7"/><rect x="872.0" y="321.1" width="14.7" height="14.7"/><rect x="870.2" y="333.9" width="14.7" height="14.7"/><rect x="877.5" y="340.3" width="14.7" height="14.7"/><rect x="881.1" y="334.8" width="14.7" height="14.7"/><rect x="816.4" y="391.3" width="14.7" height="14.7"/><rect x="844.4" y="384.9" width="14.7" height="14.7"/><rect x="865.8" y="378.5" width="14.7" height="14.7"/><rect x="855.6" y="391.3" width="14.7" height="14.7"/><rect x="881.1" y="373.1" width="14.7" height="14.7"/><rect x="806.4" y="399.5" width="14.7" height="14.7"/><rect x="879.0" y="321.5" width="14.7" height="14.7"/><rect x="901.9" y="327.9" width="14.7" height="14.7"/><rect x="918.2" y="321.5" width="14.7" height="14.7"/><rect x="928.2" y="327.9" width="14.7" height="14.7"/><rect x="886.4" y="340.3" width="14.7" height="14.7"/><rect x="965.5" y="302.9" width="14.7" height="14.7"/><rect x="964.6" y="315.3" width="14.7" height="14.7"/><rect x="917.2" y="347.0" width="14.7" height="14.7"/><rect x="906.8" y="353.4" width="14.7" height="14.7"/><rect x="798.2" y="415.4" width="14.7" height="14.7"/><rect x="816.2" y="422.5" width="14.7" height="14.7"/></g>
<g fill="#723997" fill-opacity="0.8" stroke="#f4e8f6" stroke-opacity="0.45" stroke-width="1.0" paint-order="stroke"><path d="M959.6 77.3l9.9 17.0h-19.8z"/><path d="M983.0 71.0l9.9 17.0h-19.8z"/><path d="M1029.4 77.3l9.9 17.0h-19.8z"/><path d="M1040.4 78.3l9.9 17.0h-19.8z"/><path d="M1003.0 96.1l9.9 17.0h-19.8z"/><path d="M974.8 102.9l9.9 17.0h-19.8z"/><path d="M963.8 96.5l9.9 17.0h-19.8z"/><path d="M1021.2 102.9l9.9 17.0h-19.8z"/><path d="M1025.8 102.9l9.9 17.0h-19.8z"/><path d="M1068.7 26.9l9.9 17.0h-19.8z"/><path d="M1101.7 83.8l9.9 17.0h-19.8z"/><path d="M1129.4 83.8l9.9 17.0h-19.8z"/><path d="M1190.5 90.2l9.9 17.0h-19.8z"/><path d="M952.9 109.0l9.9 17.0h-19.8z"/><path d="M970.2 121.8l9.9 17.0h-19.8z"/><path d="M1003.0 134.5l9.9 17.0h-19.8z"/><path d="M1011.2 134.0l9.9 17.0h-19.8z"/><path d="M942.0 134.5l9.9 17.0h-19.8z"/><path d="M934.7 147.3l9.9 17.0h-19.8z"/><path d="M968.4 147.3l9.9 17.0h-19.8z"/><path d="M974.8 153.7l9.9 17.0h-19.8z"/><path d="M980.2 153.7l9.9 17.0h-19.8z"/><path d="M922.3 160.0l9.9 17.0h-19.8z"/><path d="M976.6 185.0l9.9 17.0h-19.8z"/><path d="M958.4 191.6l9.9 17.0h-19.8z"/><path d="M965.3 191.6l9.9 17.0h-19.8z"/><path d="M1035.8 185.0l9.9 17.0h-19.8z"/><path d="M1038.5 176.4l9.9 17.0h-19.8z"/><path d="M1045.5 109.0l9.9 17.0h-19.8z"/><path d="M1054.1 147.0l9.9 17.0h-19.8z"/><path d="M1057.4 160.1l9.9 17.0h-19.8z"/><path d="M1045.5 165.9l9.9 17.0h-19.8z"/><path d="M1078.7 185.1l9.9 17.0h-19.8z"/><path d="M1050.4 203.9l9.9 17.0h-19.8z"/><path d="M871.2 286.5l9.9 17.0h-19.8z"/><path d="M879.8 286.5l9.9 17.0h-19.8z"/><path d="M954.7 203.5l9.9 17.0h-19.8z"/><path d="M966.6 210.3l9.9 17.0h-19.8z"/><path d="M993.0 203.9l9.9 17.0h-19.8z"/><path d="M1017.9 203.9l9.9 17.0h-19.8z"/><path d="M1032.2 229.1l9.9 17.0h-19.8z"/><path d="M969.8 254.2l9.9 17.0h-19.8z"/><path d="M986.6 260.9l9.9 17.0h-19.8z"/><path d="M1015.8 260.9l9.9 17.0h-19.8z"/><path d="M960.2 273.7l9.9 17.0h-19.8z"/><path d="M952.0 286.5l9.9 17.0h-19.8z"/><path d="M988.4 285.5l9.9 17.0h-19.8z"/><path d="M981.1 292.8l9.9 17.0h-19.8z"/><path d="M1045.5 210.3l9.9 17.0h-19.8z"/><path d="M1044.2 242.2l9.9 17.0h-19.8z"/></g>
</g>
<g clip-path="url(#cBS)">
<g fill="#cb8c11" fill-opacity="0.8" stroke="#e8f6f6" stroke-opacity="0.45" stroke-width="1.0" paint-order="stroke"><circle cx="1032.7" cy="278.7" r="7.55"/><circle cx="1027.2" cy="302.4" r="7.55"/><circle cx="1038.5" cy="302.4" r="7.55"/><circle cx="1103.3" cy="297.3" r="7.55"/><circle cx="979.7" cy="334.9" r="7.55"/><circle cx="993.9" cy="341.8" r="7.55"/><circle cx="1036.7" cy="328.5" r="7.55"/><circle cx="1088.4" cy="322.7" r="7.55"/></g>
<g fill="#008b87" fill-opacity="0.8" stroke="#e8f6f6" stroke-opacity="0.45" stroke-width="1.0" paint-order="stroke"><rect x="1046.8" y="245.8" width="14.7" height="14.7"/><rect x="844.4" y="384.9" width="14.7" height="14.7"/><rect x="865.8" y="378.5" width="14.7" height="14.7"/><rect x="855.6" y="391.3" width="14.7" height="14.7"/><rect x="881.1" y="373.1" width="14.7" height="14.7"/><rect x="881.1" y="389.5" width="14.7" height="14.7"/><rect x="928.2" y="327.9" width="14.7" height="14.7"/><rect x="965.5" y="302.9" width="14.7" height="14.7"/><rect x="964.6" y="315.3" width="14.7" height="14.7"/><rect x="979.2" y="327.9" width="14.7" height="14.7"/><rect x="971.9" y="334.4" width="14.7" height="14.7"/><rect x="1000.2" y="334.4" width="14.7" height="14.7"/><rect x="971.0" y="347.0" width="14.7" height="14.7"/><rect x="917.2" y="347.0" width="14.7" height="14.7"/><rect x="906.8" y="353.4" width="14.7" height="14.7"/><rect x="913.6" y="372.2" width="14.7" height="14.7"/><rect x="954.6" y="372.2" width="14.7" height="14.7"/><rect x="984.1" y="378.5" width="14.7" height="14.7"/><rect x="1003.9" y="365.8" width="14.7" height="14.7"/><rect x="1017.6" y="372.2" width="14.7" height="14.7"/><rect x="1008.4" y="378.5" width="14.7" height="14.7"/><rect x="913.6" y="384.9" width="14.7" height="14.7"/><rect x="888.1" y="391.3" width="14.7" height="14.7"/><rect x="1012.0" y="391.3" width="14.7" height="14.7"/><rect x="1029.4" y="391.3" width="14.7" height="14.7"/><rect x="951.0" y="396.8" width="14.7" height="14.7"/><rect x="1025.8" y="308.9" width="14.7" height="14.7"/><rect x="1026.7" y="321.1" width="14.7" height="14.7"/><rect x="945.5" y="400.4" width="14.7" height="14.7"/><rect x="998.4" y="401.3" width="14.7" height="14.7"/><rect x="1061.4" y="347.1" width="14.7" height="14.7"/><rect x="1109.2" y="340.8" width="14.7" height="14.7"/><rect x="1069.8" y="365.8" width="14.7" height="14.7"/><rect x="1043.2" y="378.2" width="14.7" height="14.7"/><rect x="1033.6" y="391.4" width="14.7" height="14.7"/><rect x="798.2" y="415.4" width="14.7" height="14.7"/><rect x="794.1" y="426.6" width="14.7" height="14.7"/><rect x="816.2" y="422.5" width="14.7" height="14.7"/><rect x="844.2" y="416.4" width="14.7" height="14.7"/><rect x="875.9" y="421.5" width="14.7" height="14.7"/><rect x="876.9" y="428.8" width="14.7" height="14.7"/><rect x="877.9" y="437.9" width="14.7" height="14.7"/><rect x="822.8" y="441.5" width="14.7" height="14.7"/><rect x="829.9" y="441.5" width="14.7" height="14.7"/><rect x="839.1" y="447.8" width="14.7" height="14.7"/><rect x="854.0" y="441.5" width="14.7" height="14.7"/><rect x="852.4" y="460.3" width="14.7" height="14.7"/><rect x="801.4" y="460.3" width="14.7" height="14.7"/><rect x="798.2" y="473.6" width="14.7" height="14.7"/><rect x="778.2" y="473.6" width="14.7" height="14.7"/><rect x="771.6" y="484.9" width="14.7" height="14.7"/><rect x="770.6" y="491.0" width="14.7" height="14.7"/><rect x="794.5" y="498.1" width="14.7" height="14.7"/><rect x="882.0" y="472.6" width="14.7" height="14.7"/><rect x="946.2" y="404.1" width="14.7" height="14.7"/><rect x="962.9" y="410.3" width="14.7" height="14.7"/><rect x="944.1" y="416.4" width="14.7" height="14.7"/><rect x="954.8" y="422.9" width="14.7" height="14.7"/><rect x="900.2" y="422.9" width="14.7" height="14.7"/><rect x="923.4" y="422.9" width="14.7" height="14.7"/><rect x="932.9" y="429.3" width="14.7" height="14.7"/><rect x="878.8" y="441.9" width="14.7" height="14.7"/><rect x="941.1" y="435.8" width="14.7" height="14.7"/><rect x="946.2" y="441.9" width="14.7" height="14.7"/><rect x="903.4" y="454.2" width="14.7" height="14.7"/><rect x="897.1" y="466.9" width="14.7" height="14.7"/><rect x="908.4" y="466.9" width="14.7" height="14.7"/><rect x="885.4" y="473.6" width="14.7" height="14.7"/><rect x="951.4" y="460.3" width="14.7" height="14.7"/><rect x="946.2" y="466.9" width="14.7" height="14.7"/><rect x="1000.4" y="410.3" width="14.7" height="14.7"/><rect x="1018.7" y="416.4" width="14.7" height="14.7"/><rect x="1011.6" y="422.5" width="14.7" height="14.7"/><rect x="1015.6" y="422.5" width="14.7" height="14.7"/><rect x="1000.4" y="441.5" width="14.7" height="14.7"/><rect x="1010.5" y="454.2" width="14.7" height="14.7"/><rect x="1016.7" y="460.3" width="14.7" height="14.7"/><rect x="1003.9" y="473.2" width="14.7" height="14.7"/><rect x="1016.7" y="473.6" width="14.7" height="14.7"/><rect x="1022.9" y="473.6" width="14.7" height="14.7"/><rect x="1028.0" y="478.8" width="14.7" height="14.7"/><rect x="1012.0" y="485.9" width="14.7" height="14.7"/><rect x="1056.5" y="429.3" width="14.7" height="14.7"/><rect x="1120.5" y="435.4" width="14.7" height="14.7"/><rect x="1035.4" y="448.1" width="14.7" height="14.7"/><rect x="1053.4" y="448.1" width="14.7" height="14.7"/><rect x="1032.5" y="308.3" width="14.7" height="14.7"/></g>
<g fill="#6f37a1" fill-opacity="0.8" stroke="#e8f6f6" stroke-opacity="0.45" stroke-width="1.0" paint-order="stroke"><path d="M1015.8 260.9l9.9 17.0h-19.8z"/><path d="M988.4 285.5l9.9 17.0h-19.8z"/><path d="M981.1 292.8l9.9 17.0h-19.8z"/><path d="M1044.2 242.2l9.9 17.0h-19.8z"/></g>
</g>
<path d="M771.9 510.4L815.0 421.9L1005.7 12.3M815.0 421.9L1203.7 149.5" stroke="#000" stroke-width="2.7" fill="none" stroke-linejoin="round"/>
<rect x="664.0" y="12.3" width="539.7" height="498.1" fill="none" stroke="#000" stroke-width="2.6"/>
<text class="lb" x="671.6" y="33.0">(B)</text>
<text class="tk" x="664.0" y="548.4" text-anchor="middle">−3</text>
<text class="tk" x="754.0" y="548.4" text-anchor="middle">−2</text>
<text class="tk" x="843.9" y="548.4" text-anchor="middle">−1</text>
<text class="tk" x="933.9" y="548.4" text-anchor="middle">0</text>
<text class="tk" x="1023.8" y="548.4" text-anchor="middle">1</text>
<text class="tk" x="1113.8" y="548.4" text-anchor="middle">2</text>
<text class="tk" x="1203.7" y="548.4" text-anchor="middle">3</text>
</g>
<g id="panelC">
<g fill="#ff8c00" fill-opacity="0.8"><circle cx="1365.9" cy="12.6" r="7.55"/><circle cx="1441.5" cy="12.6" r="7.55"/><circle cx="1476.1" cy="12.6" r="7.55"/></g>
<g fill="#008b8b" fill-opacity="0.8"><rect x="1527.8" y="498.3" width="14.7" height="14.7"/></g>
<defs>
<clipPath id="cCO"><polygon points="1790.2,12.3 1448.5,12.3 1639.2,421.9 1682.3,510.4 1790.2,510.4"/></clipPath>
<clipPath id="cCT"><polygon points="1448.5,12.3 1250.5,12.3 1250.5,149.5 1639.2,421.9"/></clipPath>
<clipPath id="cCS"><polygon points="1682.3,510.4 1639.2,421.9 1250.5,149.5 1250.5,510.4"/></clipPath>
</defs>
<polygon points="1790.2,12.3 1448.5,12.3 1639.2,421.9 1682.3,510.4 1790.2,510.4" fill="#ffe8cd"/>
<polygon points="1448.5,12.3 1250.5,12.3 1250.5,149.5 1639.2,421.9" fill="#e5d3e8"/>
<polygon points="1682.3,510.4 1639.2,421.9 1250.5,149.5 1250.5,510.4" fill="#cde6e7"/>
<g clip-path="url(#cCO)">
<g fill="#fa8a08" fill-opacity="0.8" stroke="#fff4e6" stroke-opacity="0.45" stroke-width="1.0" paint-order="stroke"><circle cx="1441.5" cy="12.6" r="7.55"/><circle cx="1448.1" cy="37.8" r="7.55"/><circle cx="1476.1" cy="12.6" r="7.55"/><circle cx="1495.8" cy="37.8" r="7.55"/><circle cx="1476.1" cy="63.1" r="7.55"/><circle cx="1546.6" cy="63.1" r="7.55"/><circle cx="1471.3" cy="82.1" r="7.55"/><circle cx="1521.9" cy="101.1" r="7.55"/><circle cx="1491.1" cy="113.7" r="7.55"/><circle cx="1486.8" cy="113.7" r="7.55"/><circle cx="1505.5" cy="132.7" r="7.55"/><circle cx="1507.2" cy="145.3" r="7.55"/><circle cx="1550.4" cy="151.7" r="7.55"/></g>
<g fill="#2a886d" fill-opacity="0.8" stroke="#fff4e6" stroke-opacity="0.45" stroke-width="1.0" paint-order="stroke"><rect x="1624.8" y="245.5" width="14.7" height="14.7"/><rect x="1648.0" y="258.1" width="14.7" height="14.7"/><rect x="1646.3" y="264.4" width="14.7" height="14.7"/><rect x="1709.0" y="264.4" width="14.7" height="14.7"/><rect x="1769.8" y="264.4" width="14.7" height="14.7"/><rect x="1608.3" y="277.0" width="14.7" height="14.7"/><rect x="1629.8" y="296.0" width="14.7" height="14.7"/><rect x="1695.7" y="327.6" width="14.7" height="14.7"/><rect x="1667.7" y="340.3" width="14.7" height="14.7"/><rect x="1682.7" y="346.6" width="14.7" height="14.7"/><rect x="1652.7" y="352.9" width="14.7" height="14.7"/><rect x="1585.5" y="308.8" width="14.7" height="14.7"/><rect x="1611.7" y="308.8" width="14.7" height="14.7"/><rect x="1630.2" y="308.8" width="14.7" height="14.7"/><rect x="1637.0" y="308.8" width="14.7" height="14.7"/><rect x="1592.0" y="315.0" width="14.7" height="14.7"/><rect x="1597.3" y="315.0" width="14.7" height="14.7"/><rect x="1604.0" y="315.0" width="14.7" height="14.7"/><rect x="1595.5" y="321.3" width="14.7" height="14.7"/><rect x="1604.0" y="321.3" width="14.7" height="14.7"/><rect x="1610.5" y="321.3" width="14.7" height="14.7"/><rect x="1589.0" y="327.6" width="14.7" height="14.7"/><rect x="1606.2" y="327.6" width="14.7" height="14.7"/><rect x="1602.8" y="333.9" width="14.7" height="14.7"/><rect x="1609.2" y="333.9" width="14.7" height="14.7"/><rect x="1620.5" y="333.9" width="14.7" height="14.7"/><rect x="1601.5" y="340.3" width="14.7" height="14.7"/><rect x="1606.8" y="340.3" width="14.7" height="14.7"/><rect x="1590.8" y="346.6" width="14.7" height="14.7"/><rect x="1600.3" y="346.6" width="14.7" height="14.7"/><rect x="1618.2" y="346.6" width="14.7" height="14.7"/><rect x="1625.3" y="346.6" width="14.7" height="14.7"/><rect x="1615.2" y="371.9" width="14.7" height="14.7"/><rect x="1611.8" y="371.9" width="14.7" height="14.7"/><rect x="1620.2" y="371.9" width="14.7" height="14.7"/><rect x="1620.2" y="378.2" width="14.7" height="14.7"/><rect x="1615.2" y="390.9" width="14.7" height="14.7"/><rect x="1623.8" y="390.9" width="14.7" height="14.7"/><rect x="1633.5" y="441.4" width="14.7" height="14.7"/></g>
<g fill="#98329f" fill-opacity="0.8" stroke="#fff4e6" stroke-opacity="0.45" stroke-width="1.0" paint-order="stroke"><path d="M1652.1 26.5l9.9 17.0h-19.8z"/><path d="M1688.2 20.2l9.9 17.0h-19.8z"/><path d="M1647.1 51.8l9.9 17.0h-19.8z"/><path d="M1624.1 70.8l9.9 17.0h-19.8z"/><path d="M1607.6 77.1l9.9 17.0h-19.8z"/><path d="M1640.8 77.1l9.9 17.0h-19.8z"/><path d="M1665.0 70.8l9.9 17.0h-19.8z"/><path d="M1676.6 77.1l9.9 17.0h-19.8z"/><path d="M1714.6 83.4l9.9 17.0h-19.8z"/><path d="M1663.5 83.4l9.9 17.0h-19.8z"/><path d="M1630.9 89.8l9.9 17.0h-19.8z"/><path d="M1602.8 96.1l9.9 17.0h-19.8z"/><path d="M1548.7 108.7l9.9 17.0h-19.8z"/><path d="M1553.8 140.4l9.9 17.0h-19.8z"/><path d="M1543.6 153.0l9.9 17.0h-19.8z"/><path d="M1560.1 159.3l9.9 17.0h-19.8z"/><path d="M1555.0 184.6l9.9 17.0h-19.8z"/><path d="M1579.7 178.3l9.9 17.0h-19.8z"/><path d="M1629.3 96.1l9.9 17.0h-19.8z"/><path d="M1602.4 102.4l9.9 17.0h-19.8z"/><path d="M1619.1 102.4l9.9 17.0h-19.8z"/><path d="M1650.7 102.4l9.9 17.0h-19.8z"/><path d="M1628.5 108.7l9.9 17.0h-19.8z"/><path d="M1640.9 121.4l9.9 17.0h-19.8z"/><path d="M1633.6 127.7l9.9 17.0h-19.8z"/><path d="M1610.6 134.0l9.9 17.0h-19.8z"/><path d="M1631.9 134.0l9.9 17.0h-19.8z"/><path d="M1642.1 134.0l9.9 17.0h-19.8z"/><path d="M1652.4 134.0l9.9 17.0h-19.8z"/><path d="M1622.5 146.7l9.9 17.0h-19.8z"/><path d="M1635.3 146.7l9.9 17.0h-19.8z"/><path d="M1655.8 146.7l9.9 17.0h-19.8z"/><path d="M1622.5 153.0l9.9 17.0h-19.8z"/><path d="M1643.8 153.0l9.9 17.0h-19.8z"/><path d="M1614.0 159.3l9.9 17.0h-19.8z"/><path d="M1632.8 165.6l9.9 17.0h-19.8z"/><path d="M1627.6 172.0l9.9 17.0h-19.8z"/><path d="M1606.3 184.6l9.9 17.0h-19.8z"/><path d="M1612.6 184.6l9.9 17.0h-19.8z"/><path d="M1640.4 184.6l9.9 17.0h-19.8z"/><path d="M1540.3 209.9l9.9 17.0h-19.8z"/><path d="M1561.6 203.6l9.9 17.0h-19.8z"/><path d="M1565.0 203.6l9.9 17.0h-19.8z"/><path d="M1561.9 209.9l9.9 17.0h-19.8z"/><path d="M1557.0 228.9l9.9 17.0h-19.8z"/><path d="M1548.4 241.5l9.9 17.0h-19.8z"/><path d="M1569.7 241.5l9.9 17.0h-19.8z"/><path d="M1578.1 273.1l9.9 17.0h-19.8z"/><path d="M1652.0 190.9l9.9 17.0h-19.8z"/><path d="M1620.8 203.6l9.9 17.0h-19.8z"/><path d="M1634.0 203.6l9.9 17.0h-19.8z"/><path d="M1594.4 228.9l9.9 17.0h-19.8z"/><path d="M1615.7 241.5l9.9 17.0h-19.8z"/><path d="M1750.5 209.9l9.9 17.0h-19.8z"/><path d="M1568.0 285.8l9.9 17.0h-19.8z"/><path d="M1588.0 298.4l9.9 17.0h-19.8z"/></g>
</g>
<g clip-path="url(#cCT)">
<g fill="#f37a30" fill-opacity="0.8" stroke="#f4e8f6" stroke-opacity="0.45" stroke-width="1.0" paint-order="stroke"><circle cx="1365.9" cy="12.6" r="7.55"/><circle cx="1441.5" cy="12.6" r="7.55"/><circle cx="1448.1" cy="37.8" r="7.55"/><circle cx="1443.0" cy="44.2" r="7.55"/><circle cx="1410.1" cy="50.5" r="7.55"/><circle cx="1458.0" cy="75.8" r="7.55"/><circle cx="1417.4" cy="82.1" r="7.55"/><circle cx="1424.7" cy="82.1" r="7.55"/><circle cx="1435.0" cy="82.1" r="7.55"/><circle cx="1416.7" cy="94.7" r="7.55"/><circle cx="1476.1" cy="63.1" r="7.55"/><circle cx="1471.3" cy="82.1" r="7.55"/><circle cx="1441.5" cy="107.4" r="7.55"/><circle cx="1393.7" cy="113.7" r="7.55"/><circle cx="1374.0" cy="120.0" r="7.55"/><circle cx="1408.2" cy="120.0" r="7.55"/><circle cx="1400.0" cy="126.4" r="7.55"/><circle cx="1415.0" cy="126.4" r="7.55"/><circle cx="1387.1" cy="132.7" r="7.55"/><circle cx="1427.0" cy="132.7" r="7.55"/><circle cx="1415.0" cy="139.0" r="7.55"/><circle cx="1451.3" cy="139.0" r="7.55"/><circle cx="1347.7" cy="145.3" r="7.55"/><circle cx="1433.3" cy="145.3" r="7.55"/><circle cx="1377.2" cy="151.7" r="7.55"/><circle cx="1449.5" cy="151.7" r="7.55"/><circle cx="1461.4" cy="151.7" r="7.55"/><circle cx="1400.4" cy="158.0" r="7.55"/><circle cx="1436.2" cy="158.0" r="7.55"/><circle cx="1448.6" cy="158.0" r="7.55"/><circle cx="1416.2" cy="164.3" r="7.55"/><circle cx="1439.2" cy="164.3" r="7.55"/><circle cx="1403.4" cy="170.6" r="7.55"/><circle cx="1420.1" cy="170.6" r="7.55"/><circle cx="1423.9" cy="170.6" r="7.55"/><circle cx="1441.3" cy="170.6" r="7.55"/><circle cx="1388.1" cy="176.9" r="7.55"/><circle cx="1401.7" cy="176.9" r="7.55"/><circle cx="1413.7" cy="176.9" r="7.55"/><circle cx="1459.7" cy="176.9" r="7.55"/><circle cx="1362.5" cy="183.3" r="7.55"/><circle cx="1398.3" cy="183.3" r="7.55"/><circle cx="1449.5" cy="183.3" r="7.55"/><circle cx="1418.4" cy="189.6" r="7.55"/><circle cx="1491.1" cy="113.7" r="7.55"/><circle cx="1486.8" cy="113.7" r="7.55"/><circle cx="1483.9" cy="120.0" r="7.55"/><circle cx="1505.5" cy="132.7" r="7.55"/><circle cx="1472.6" cy="139.0" r="7.55"/><circle cx="1489.3" cy="139.0" r="7.55"/><circle cx="1507.2" cy="145.3" r="7.55"/><circle cx="1462.9" cy="145.3" r="7.55"/><circle cx="1473.2" cy="145.3" r="7.55"/><circle cx="1458.7" cy="151.7" r="7.55"/><circle cx="1466.3" cy="151.7" r="7.55"/><circle cx="1471.5" cy="151.7" r="7.55"/><circle cx="1448.4" cy="158.0" r="7.55"/><circle cx="1464.6" cy="158.0" r="7.55"/><circle cx="1464.6" cy="170.6" r="7.55"/><circle cx="1472.3" cy="170.6" r="7.55"/><circle cx="1478.3" cy="170.6" r="7.55"/><circle cx="1474.0" cy="176.9" r="7.55"/><circle cx="1480.8" cy="176.9" r="7.55"/><circle cx="1490.2" cy="176.9" r="7.55"/><circle cx="1499.6" cy="176.9" r="7.55"/><circle cx="1507.2" cy="176.9" r="7.55"/><circle cx="1467.2" cy="183.3" r="7.55"/><circle cx="1479.1" cy="183.3" r="7.55"/><circle cx="1498.7" cy="189.6" r="7.55"/><circle cx="1364.2" cy="202.2" r="7.55"/><circle cx="1408.6" cy="202.2" r="7.55"/><circle cx="1417.9" cy="202.2" r="7.55"/><circle cx="1425.3" cy="202.2" r="7.55"/><circle cx="1448.1" cy="202.2" r="7.55"/><circle cx="1383.3" cy="208.6" r="7.55"/><circle cx="1397.1" cy="208.6" r="7.55"/><circle cx="1460.5" cy="208.6" r="7.55"/><circle cx="1372.2" cy="214.9" r="7.55"/><circle cx="1372.2" cy="214.9" r="7.55"/><circle cx="1389.0" cy="214.9" r="7.55"/><circle cx="1429.9" cy="214.9" r="7.55"/><circle cx="1449.5" cy="214.9" r="7.55"/><circle cx="1461.4" cy="214.9" r="7.55"/><circle cx="1388.1" cy="221.2" r="7.55"/><circle cx="1399.2" cy="221.2" r="7.55"/><circle cx="1410.6" cy="221.2" r="7.55"/><circle cx="1436.2" cy="221.2" r="7.55"/><circle cx="1447.8" cy="221.2" r="7.55"/><circle cx="1449.5" cy="227.5" r="7.55"/><circle cx="1423.0" cy="233.9" r="7.55"/><circle cx="1435.5" cy="233.9" r="7.55"/><circle cx="1381.3" cy="240.2" r="7.55"/><circle cx="1381.3" cy="240.2" r="7.55"/><circle cx="1438.4" cy="240.2" r="7.55"/><circle cx="1446.9" cy="246.5" r="7.55"/><circle cx="1392.0" cy="252.8" r="7.55"/><circle cx="1392.4" cy="259.1" r="7.55"/><circle cx="1430.7" cy="259.1" r="7.55"/><circle cx="1435.0" cy="259.1" r="7.55"/><circle cx="1448.6" cy="259.1" r="7.55"/><circle cx="1461.4" cy="259.1" r="7.55"/><circle cx="1396.6" cy="265.5" r="7.55"/><circle cx="1438.4" cy="265.5" r="7.55"/><circle cx="1457.1" cy="265.5" r="7.55"/><circle cx="1414.5" cy="271.8" r="7.55"/><circle cx="1423.0" cy="271.8" r="7.55"/><circle cx="1432.4" cy="271.8" r="7.55"/><circle cx="1457.1" cy="271.8" r="7.55"/><circle cx="1480.6" cy="189.6" r="7.55"/><circle cx="1472.9" cy="195.9" r="7.55"/><circle cx="1472.9" cy="202.2" r="7.55"/><circle cx="1480.9" cy="208.6" r="7.55"/><circle cx="1472.9" cy="233.9" r="7.55"/><circle cx="1472.9" cy="240.2" r="7.55"/><circle cx="1457.6" cy="271.8" r="7.55"/><circle cx="1464.4" cy="271.8" r="7.55"/><circle cx="1522.0" cy="208.6" r="7.55"/><circle cx="1502.2" cy="233.9" r="7.55"/><circle cx="1446.4" cy="290.8" r="7.55"/><circle cx="1470.4" cy="284.4" r="7.55"/></g>
<g fill="#1e6ea1" fill-opacity="0.8" stroke="#f4e8f6" stroke-opacity="0.45" stroke-width="1.0" paint-order="stroke"><rect x="1519.7" y="245.5" width="14.7" height="14.7"/><rect x="1533.0" y="302.3" width="14.7" height="14.7"/><rect x="1559.2" y="321.3" width="14.7" height="14.7"/><rect x="1533.0" y="340.3" width="14.7" height="14.7"/><rect x="1551.0" y="340.3" width="14.7" height="14.7"/><rect x="1552.7" y="352.9" width="14.7" height="14.7"/><rect x="1566.2" y="359.2" width="14.7" height="14.7"/><rect x="1585.5" y="308.8" width="14.7" height="14.7"/><rect x="1592.0" y="315.0" width="14.7" height="14.7"/><rect x="1597.3" y="315.0" width="14.7" height="14.7"/><rect x="1595.5" y="321.3" width="14.7" height="14.7"/><rect x="1589.0" y="327.6" width="14.7" height="14.7"/><rect x="1602.8" y="333.9" width="14.7" height="14.7"/><rect x="1601.5" y="340.3" width="14.7" height="14.7"/><rect x="1606.8" y="340.3" width="14.7" height="14.7"/><rect x="1590.8" y="346.6" width="14.7" height="14.7"/><rect x="1600.3" y="346.6" width="14.7" height="14.7"/><rect x="1582.5" y="352.9" width="14.7" height="14.7"/><rect x="1555.0" y="371.9" width="14.7" height="14.7"/><rect x="1562.8" y="371.9" width="14.7" height="14.7"/><rect x="1570.5" y="371.9" width="14.7" height="14.7"/><rect x="1580.7" y="390.9" width="14.7" height="14.7"/><rect x="1615.2" y="371.9" width="14.7" height="14.7"/><rect x="1611.8" y="371.9" width="14.7" height="14.7"/><rect x="1620.2" y="371.9" width="14.7" height="14.7"/><rect x="1598.2" y="378.2" width="14.7" height="14.7"/><rect x="1620.2" y="378.2" width="14.7" height="14.7"/><rect x="1580.2" y="384.5" width="14.7" height="14.7"/><rect x="1591.3" y="384.5" width="14.7" height="14.7"/><rect x="1582.8" y="390.9" width="14.7" height="14.7"/><rect x="1589.7" y="390.9" width="14.7" height="14.7"/><rect x="1598.2" y="390.9" width="14.7" height="14.7"/><rect x="1606.7" y="390.9" width="14.7" height="14.7"/><rect x="1615.2" y="390.9" width="14.7" height="14.7"/><rect x="1623.8" y="390.9" width="14.7" height="14.7"/><rect x="1597.2" y="403.5" width="14.7" height="14.7"/></g>
<g fill="#723997" fill-opacity="0.8" stroke="#f4e8f6" stroke-opacity="0.45" stroke-width="1.0" paint-order="stroke"><path d="M1512.1 190.9l9.9 17.0h-19.8z"/><path d="M1540.3 209.9l9.9 17.0h-19.8z"/><path d="M1557.0 228.9l9.9 17.0h-19.8z"/><path d="M1495.1 241.5l9.9 17.0h-19.8z"/><path d="M1548.4 241.5l9.9 17.0h-19.8z"/><path d="M1569.7 241.5l9.9 17.0h-19.8z"/><path d="M1552.2 254.2l9.9 17.0h-19.8z"/><path d="M1545.4 260.5l9.9 17.0h-19.8z"/><path d="M1547.4 260.5l9.9 17.0h-19.8z"/><path d="M1578.1 273.1l9.9 17.0h-19.8z"/><path d="M1469.5 285.8l9.9 17.0h-19.8z"/><path d="M1495.6 279.5l9.9 17.0h-19.8z"/><path d="M1507.4 285.8l9.9 17.0h-19.8z"/><path d="M1540.3 285.8l9.9 17.0h-19.8z"/><path d="M1568.0 285.8l9.9 17.0h-19.8z"/><path d="M1566.7 292.1l9.9 17.0h-19.8z"/><path d="M1588.0 298.4l9.9 17.0h-19.8z"/></g>
</g>
<g clip-path="url(#cCS)">
<g fill="#cb8c11" fill-opacity="0.8" stroke="#e8f6f6" stroke-opacity="0.45" stroke-width="1.0" paint-order="stroke"><circle cx="1381.3" cy="240.2" r="7.55"/><circle cx="1381.3" cy="240.2" r="7.55"/><circle cx="1392.0" cy="252.8" r="7.55"/><circle cx="1365.9" cy="259.1" r="7.55"/><circle cx="1392.4" cy="259.1" r="7.55"/><circle cx="1355.7" cy="265.5" r="7.55"/><circle cx="1388.1" cy="265.5" r="7.55"/><circle cx="1396.6" cy="265.5" r="7.55"/><circle cx="1383.0" cy="271.8" r="7.55"/><circle cx="1394.9" cy="271.8" r="7.55"/><circle cx="1414.5" cy="271.8" r="7.55"/><circle cx="1423.0" cy="271.8" r="7.55"/><circle cx="1432.4" cy="271.8" r="7.55"/><circle cx="1383.8" cy="278.1" r="7.55"/><circle cx="1405.1" cy="278.1" r="7.55"/><circle cx="1410.3" cy="284.4" r="7.55"/><circle cx="1446.4" cy="290.8" r="7.55"/><circle cx="1386.7" cy="297.1" r="7.55"/><circle cx="1397.1" cy="297.1" r="7.55"/><circle cx="1405.1" cy="303.4" r="7.55"/><circle cx="1423.6" cy="303.4" r="7.55"/><circle cx="1380.6" cy="322.4" r="7.55"/><circle cx="1341.2" cy="328.7" r="7.55"/><circle cx="1392.0" cy="328.7" r="7.55"/><circle cx="1416.7" cy="335.0" r="7.55"/><circle cx="1375.7" cy="341.3" r="7.55"/><circle cx="1324.5" cy="366.6" r="7.55"/></g>
<g fill="#008b87" fill-opacity="0.8" stroke="#e8f6f6" stroke-opacity="0.45" stroke-width="1.0" paint-order="stroke"><rect x="1533.0" y="340.3" width="14.7" height="14.7"/><rect x="1552.7" y="352.9" width="14.7" height="14.7"/><rect x="1566.2" y="359.2" width="14.7" height="14.7"/><rect x="1529.5" y="365.6" width="14.7" height="14.7"/><rect x="1504.8" y="378.2" width="14.7" height="14.7"/><rect x="1475.2" y="409.8" width="14.7" height="14.7"/><rect x="1500.2" y="422.5" width="14.7" height="14.7"/><rect x="1503.5" y="428.8" width="14.7" height="14.7"/><rect x="1492.8" y="441.4" width="14.7" height="14.7"/><rect x="1506.5" y="441.4" width="14.7" height="14.7"/><rect x="1501.3" y="454.1" width="14.7" height="14.7"/><rect x="1521.0" y="409.8" width="14.7" height="14.7"/><rect x="1555.0" y="371.9" width="14.7" height="14.7"/><rect x="1562.8" y="371.9" width="14.7" height="14.7"/><rect x="1570.5" y="371.9" width="14.7" height="14.7"/><rect x="1547.3" y="384.5" width="14.7" height="14.7"/><rect x="1538.0" y="390.9" width="14.7" height="14.7"/><rect x="1550.0" y="390.9" width="14.7" height="14.7"/><rect x="1555.0" y="390.9" width="14.7" height="14.7"/><rect x="1570.5" y="390.9" width="14.7" height="14.7"/><rect x="1580.7" y="390.9" width="14.7" height="14.7"/><rect x="1533.0" y="403.5" width="14.7" height="14.7"/><rect x="1551.7" y="403.5" width="14.7" height="14.7"/><rect x="1555.0" y="397.2" width="14.7" height="14.7"/><rect x="1531.2" y="416.1" width="14.7" height="14.7"/><rect x="1536.3" y="416.1" width="14.7" height="14.7"/><rect x="1544.8" y="416.1" width="14.7" height="14.7"/><rect x="1558.5" y="416.1" width="14.7" height="14.7"/><rect x="1570.5" y="416.1" width="14.7" height="14.7"/><rect x="1582.3" y="416.1" width="14.7" height="14.7"/><rect x="1531.2" y="422.5" width="14.7" height="14.7"/><rect x="1538.0" y="422.5" width="14.7" height="14.7"/><rect x="1546.5" y="422.5" width="14.7" height="14.7"/><rect x="1555.0" y="422.5" width="14.7" height="14.7"/><rect x="1572.2" y="422.5" width="14.7" height="14.7"/><rect x="1531.2" y="428.8" width="14.7" height="14.7"/><rect x="1555.0" y="428.8" width="14.7" height="14.7"/><rect x="1558.5" y="428.8" width="14.7" height="14.7"/><rect x="1558.5" y="435.1" width="14.7" height="14.7"/><rect x="1575.5" y="435.1" width="14.7" height="14.7"/><rect x="1582.3" y="435.1" width="14.7" height="14.7"/><rect x="1543.2" y="441.4" width="14.7" height="14.7"/><rect x="1551.7" y="441.4" width="14.7" height="14.7"/><rect x="1570.5" y="441.4" width="14.7" height="14.7"/><rect x="1548.2" y="447.8" width="14.7" height="14.7"/><rect x="1570.5" y="447.8" width="14.7" height="14.7"/><rect x="1598.2" y="378.2" width="14.7" height="14.7"/><rect x="1580.2" y="384.5" width="14.7" height="14.7"/><rect x="1591.3" y="384.5" width="14.7" height="14.7"/><rect x="1572.5" y="390.9" width="14.7" height="14.7"/><rect x="1582.8" y="390.9" width="14.7" height="14.7"/><rect x="1589.7" y="390.9" width="14.7" height="14.7"/><rect x="1598.2" y="390.9" width="14.7" height="14.7"/><rect x="1606.7" y="390.9" width="14.7" height="14.7"/><rect x="1615.2" y="390.9" width="14.7" height="14.7"/><rect x="1597.2" y="403.5" width="14.7" height="14.7"/><rect x="1585.3" y="416.1" width="14.7" height="14.7"/><rect x="1571.8" y="416.1" width="14.7" height="14.7"/><rect x="1597.2" y="422.5" width="14.7" height="14.7"/><rect x="1585.3" y="422.5" width="14.7" height="14.7"/><rect x="1572.5" y="422.5" width="14.7" height="14.7"/><rect x="1583.7" y="435.1" width="14.7" height="14.7"/><rect x="1615.2" y="435.1" width="14.7" height="14.7"/><rect x="1633.5" y="441.4" width="14.7" height="14.7"/><rect x="1570.8" y="441.4" width="14.7" height="14.7"/><rect x="1588.8" y="447.8" width="14.7" height="14.7"/><rect x="1571.8" y="447.8" width="14.7" height="14.7"/><rect x="1508.2" y="460.4" width="14.7" height="14.7"/><rect x="1504.0" y="460.4" width="14.7" height="14.7"/><rect x="1462.2" y="473.1" width="14.7" height="14.7"/><rect x="1490.7" y="473.1" width="14.7" height="14.7"/><rect x="1490.7" y="473.1" width="14.7" height="14.7"/><rect x="1480.0" y="485.8" width="14.7" height="14.7"/><rect x="1513.0" y="479.4" width="14.7" height="14.7"/><rect x="1501.8" y="492.0" width="14.7" height="14.7"/><rect x="1527.8" y="498.3" width="14.7" height="14.7"/><rect x="1539.8" y="460.4" width="14.7" height="14.7"/><rect x="1527.8" y="466.8" width="14.7" height="14.7"/><rect x="1534.7" y="466.8" width="14.7" height="14.7"/><rect x="1540.5" y="466.8" width="14.7" height="14.7"/><rect x="1536.3" y="473.1" width="14.7" height="14.7"/><rect x="1565.8" y="473.1" width="14.7" height="14.7"/><rect x="1554.2" y="485.8" width="14.7" height="14.7"/><rect x="1570.5" y="454.1" width="14.7" height="14.7"/><rect x="1550.0" y="447.8" width="14.7" height="14.7"/><rect x="1582.3" y="447.8" width="14.7" height="14.7"/></g>
<g fill="#6f37a1" fill-opacity="0.8" stroke="#e8f6f6" stroke-opacity="0.45" stroke-width="1.0" paint-order="stroke"><path d="M1469.5 285.8l9.9 17.0h-19.8z"/></g>
</g>
<path d="M1682.3 510.4L1639.2 421.9L1448.5 12.3M1639.2 421.9L1250.5 149.5" stroke="#000" stroke-width="2.7" fill="none" stroke-linejoin="round"/>
<rect x="1250.5" y="12.3" width="539.7" height="498.1" fill="none" stroke="#000" stroke-width="2.6"/>
<text class="lb" x="1258.1" y="33.0">(C)</text>
<text class="tk" x="1250.5" y="548.4" text-anchor="middle">−3</text>
<text class="tk" x="1340.5" y="548.4" text-anchor="middle">−2</text>
<text class="tk" x="1430.4" y="548.4" text-anchor="middle">−1</text>
<text class="tk" x="1520.3" y="548.4" text-anchor="middle">0</text>
<text class="tk" x="1610.3" y="548.4" text-anchor="middle">1</text>
<text class="tk" x="1700.2" y="548.4" text-anchor="middle">2</text>
<text class="tk" x="1790.2" y="548.4" text-anchor="middle">3</text>
</g>
<text class="tk" x="58" y="20.2" text-anchor="end">2</text>
<text class="tk" x="58" y="144.7" text-anchor="end">1</text>
<text class="tk" x="58" y="269.2" text-anchor="end">0</text>
<text class="tk" x="58" y="393.7" text-anchor="end">−1</text>
<text class="tk" x="58" y="518.2" text-anchor="end">−2</text>
<text class="ax" x="933.5" y="577" text-anchor="middle">Bill length, scaled</text>
<text class="ax" transform="translate(24,261) rotate(-90)" text-anchor="middle">Bill depth, scaled</text>
</svg></body></html>
